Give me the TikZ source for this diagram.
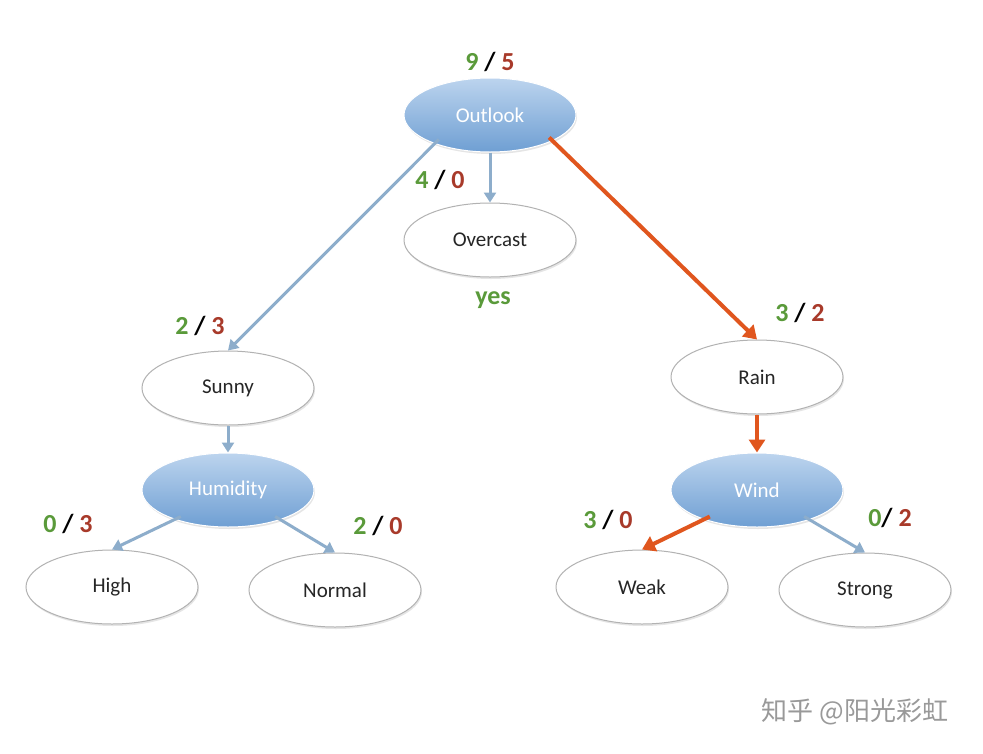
\documentclass[tikz,border=0pt]{standalone}
\usepackage{fontspec}
\setmainfont{Carlito}
\newfontfamily\cjk{Noto Sans CJK SC}
\usetikzlibrary{shapes.geometric,arrows.meta,shadows}
\definecolor{bl}{HTML}{8DADCB}
\definecolor{org}{HTML}{E0561E}
\definecolor{gr}{HTML}{5A9A3A}
\definecolor{rd}{HTML}{A83A2A}
\definecolor{atop}{HTML}{BCD4EE}
\definecolor{abot}{HTML}{6F9FD3}
\begin{document}
\begin{tikzpicture}[x=1pt,y=-1pt,
  leaf/.style={ellipse,draw=gray!60,line width=1pt,fill=white,minimum width=172pt,minimum height=74pt,font=\fontsize{21}{23}\selectfont,text=black!85,drop shadow={opacity=0.2,shadow xshift=1pt,shadow yshift=-2pt}},
  attr/.style={ellipse,draw=white,line width=1pt,top color=atop,bottom color=abot,minimum width=172pt,minimum height=74pt,text=white,font=\fontsize{21}{23}\selectfont,drop shadow={opacity=0.2,shadow xshift=1pt,shadow yshift=-2pt}},
  cnt/.style={font=\bfseries\fontsize{26}{28}\selectfont},
  barr/.style={draw=bl,line width=3pt,-{Triangle[length=10pt,width=12pt]}},
  oarr/.style={draw=org,line width=4pt,-{Triangle[length=13pt,width=16pt]}}]
\useasboundingbox[fill=white] (0,0) rectangle (983,753);
\node[attr] (outlook) at (490,115) {Outlook};
\node[leaf] (overcast) at (490,240) {Overcast};
\node[leaf] (sunny) at (228,388) {Sunny};
\node[attr] (humidity) at (228,490) {Humidity};
\node[leaf] (high) at (112,587) {High};
\node[leaf] (normal) at (335,590) {Normal};
\node[leaf] (rain) at (757,377) {Rain};
\node[attr] (wind) at (757,490) {Wind};
\node[leaf] (weak) at (642,587) {Weak};
\node[leaf] (strong) at (865,590) {Strong};
\node[cnt,text=gr] (yes) at (493,300) {yes};
\node[cnt] (l1) at (490,62) {\textcolor{gr}{9} / \textcolor{rd}{5}};
\node[cnt] (l2) at (440,180) {\textcolor{gr}{4} / \textcolor{rd}{0}};
\node[cnt] (l3) at (200,326) {\textcolor{gr}{2} / \textcolor{rd}{3}};
\node[cnt] (l4) at (800,313) {\textcolor{gr}{3} / \textcolor{rd}{2}};
\node[cnt] (l5) at (68,524) {\textcolor{gr}{0} / \textcolor{rd}{3}};
\node[cnt] (l6) at (378,526) {\textcolor{gr}{2} / \textcolor{rd}{0}};
\node[cnt] (l7) at (608,520) {\textcolor{gr}{3} / \textcolor{rd}{0}};
\node[cnt] (l8) at (890,518) {\textcolor{gr}{0}/ \textcolor{rd}{2}};
\node[font=\cjk\fontsize{26}{28}\selectfont,text=gray!80] (wm) at (855,712) {知乎 @阳光彩虹};
\draw[barr] (outlook.south west) ++(10,-2) -- (sunny.north);
\draw[barr] (outlook) -- (overcast);
\draw[oarr] (outlook.south east) ++(-2,-4) -- (rain.north);
\draw[oarr] (rain) -- (wind);
\draw[barr] (sunny) -- (humidity);
\draw[barr] (humidity.south west) ++(14,0) -- (high.north);
\draw[barr] (humidity.south east) ++(-14,0) -- (normal.north);
\draw[oarr] (wind.south west) ++(14,0) -- (weak.north);
\draw[barr] (wind.south east) ++(-14,0) -- (strong.north);
\end{tikzpicture}
\end{document}
